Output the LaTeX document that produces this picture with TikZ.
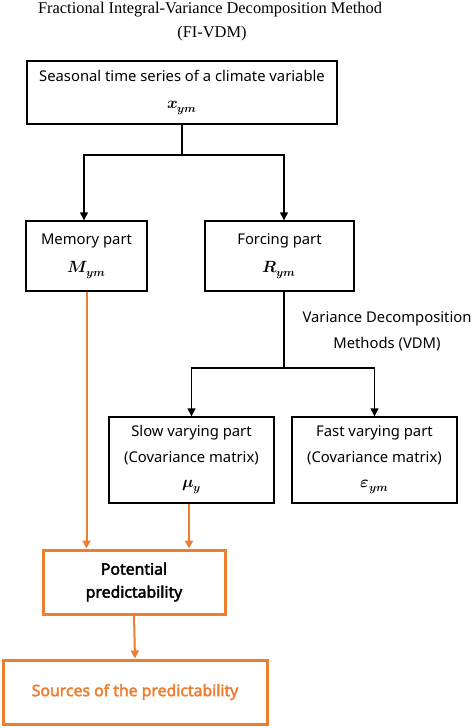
\documentclass[tikz,border=0pt]{standalone}
\usepackage{fontspec}
\usepackage{unicode-math}
\setmainfont{Liberation Serif}
\setmathfont{Latin Modern Math}[Scale=1.1]
\newfontfamily\yh{Noto Sans}[BoldFont={Noto Sans},BoldFeatures={FakeBold=2.5}]
\usetikzlibrary{arrows.meta,calc}
\definecolor{org}{HTML}{ED7D31}
\newcommand{\bv}[1]{\symbfit{#1}}
\begin{document}
\begin{tikzpicture}[x=1pt,y=-1pt,
  box/.style={draw=black,line width=1.4pt,align=center,inner sep=0pt,font=\yh\fontsize{14.8}{27}\selectfont},
  obox/.style={draw=org,line width=3pt,align=center,inner sep=0pt,font=\yh\bfseries\fontsize{15.8}{23}\selectfont},
  arr/.style={line width=1.4pt,-{Triangle[length=8pt,width=8pt]}},
  ln/.style={line width=1.4pt},
  oarr/.style={draw=org,line width=2pt,-{Triangle[length=8pt,width=8pt]},color=org}]
\useasboundingbox (0,0) rectangle (474,728);
\node[anchor=base,font=\fontsize{16.4}{18}\selectfont] (t1) at (210,13.5) {Fractional Integral-Variance Decomposition Method};
\node[anchor=base,font=\fontsize{16.4}{18}\selectfont] (t2) at (212,37) {(FI-VDM)};
\node[box,minimum width=310pt,minimum height=63pt] (b1) at (182,92.5) {Seasonal time series of a climate variable\\ $\bv{x}_{\bv{ym}}$};
\node[box,minimum width=121pt,minimum height=70pt,font=\yh\fontsize{14.8}{28}\selectfont] (mem) at (86.5,256) {Memory part\\ $\bv{M}_{\bv{ym}}$};
\node[box,minimum width=149pt,minimum height=70pt,font=\yh\fontsize{14.8}{28}\selectfont] (forc) at (279.5,256) {Forcing part\\ $\bv{R}_{\bv{ym}}$};
\node[box,minimum width=165pt,minimum height=86pt,font=\yh\fontsize{14.8}{25.5}\selectfont] (slow) at (191.5,460) {Slow varying part\\ (Covariance matrix)\\ $\bv{\mu}_{\bv{y}}$};
\node[box,minimum width=165pt,minimum height=86pt,font=\yh\fontsize{14.8}{25.5}\selectfont] (fast) at (374.5,460) {Fast varying part\\ (Covariance matrix)\\ $\bv{\varepsilon}_{\bv{ym}}$};
\node[obox,minimum width=182pt,minimum height=64pt] (pot) at (134,582) {Potential\\ predictability};
\node[obox,minimum width=264pt,minimum height=64pt,text=org,font=\yh\bfseries\fontsize{15.8}{16}\selectfont] (src) at (135,692) {Sources of the predictability};
\node[align=center,font=\yh\fontsize{14.8}{26}\selectfont] (vdm) at (387,331) {Variance Decomposition\\ Methods (VDM)};
\coordinate (j1) at (182,155);
\coordinate (j2) at (284,368);
\draw[ln] (b1.south) -- (j1);
\draw[arr] (j1) -| (84,0 |- mem.north);
\draw[arr] (j1) -| (j2 |- forc.north);
\draw[ln] (j2 |- forc.south) -- (j2);
\draw[arr] (j2) -| (slow.north);
\draw[arr] (j2) -| (fast.north);
\draw[oarr] (mem.south) -- (mem.south |- pot.north);
\draw[oarr] ([xshift=-2.5pt]slow.south) -- ([xshift=-2.5pt]slow.south |- pot.north);
\draw[oarr] (pot.south) -- (src.north);
\end{tikzpicture}
\end{document}
